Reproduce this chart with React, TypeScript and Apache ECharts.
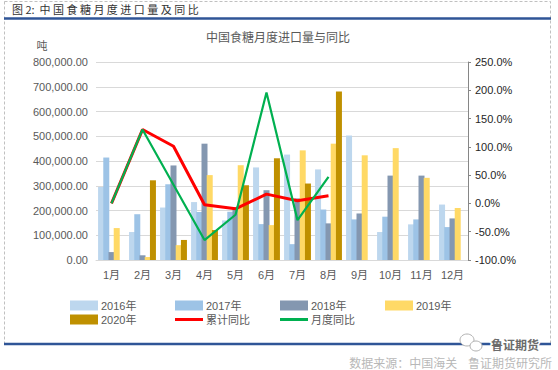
import React, { useEffect, useRef } from 'react';
import * as echarts from 'echarts';

const months = ['1月', '2月', '3月', '4月', '5月', '6月', '7月', '8月', '9月', '10月', '11月', '12月'];
const y2016 = [295000, 113000, 212000, 234000, 160000, 374000, 426000, 366000, 503000, 113000, 144000, 224000];
const y2017 = [414000, 185000, 306000, 194000, 195000, 145000, 64000, 204000, 164000, 175000, 164000, 133000];
const y2018 = [32000, 19000, 382000, 470000, 212000, 282000, 249000, 148000, 188000, 341000, 341000, 168000];
const y2019 = [129000, 12000, 60000, 343000, 383000, 141000, 443000, 470000, 423000, 452000, 332000, 210000];
const y2020 = [null, 322000, 81000, 121000, 302000, 411000, 309000, 681000, null, null, null, null];
const cumYoY = [0, 130.6, 101, -2.4, -9.5, 16.4, 4.6, 13.4];
const monYoY = [0, 130.6, 33, -64.8, -20, 196, -29.5, 47];

const NUM_FONT = "'Liberation Sans', 'Noto Sans CJK SC', sans-serif";
const CJK_FONT = "'Noto Sans CJK SC', sans-serif";
const GREY = '#595959';

const barNames = ['2016年', '2017年', '2018年', '2019年', '2020年'];
const barData = [y2016, y2017, y2018, y2019, y2020];
const barColors = ['#bdd7ee', '#9dc3e6', '#8497b0', '#ffd966', '#bf9000'];

function legendAt(name: string, left: number, top: number, isLine: boolean) {
  return {
    show: true,
    left,
    top,
    padding: 0,
    itemGap: 0,
    itemWidth: 28,
    itemHeight: isLine ? 3 : 10,
    icon: 'rect',
    data: [name],
    selectedMode: false,
    textStyle: { fontSize: 11, color: GREY, fontFamily: NUM_FONT, padding: [0, 0, 0, -2] },
  };
}

export default function App() {
  const ref = useRef<HTMLDivElement>(null);
  useEffect(() => {
    const chart = echarts.init(ref.current!, null, { renderer: 'svg' });
    const series: any[] = barNames.map((n, i) => ({
      name: n,
      type: 'bar',
      yAxisIndex: 0,
      data: barData[i],
      barWidth: 6,
      barGap: '-13%',
      itemStyle: { color: barColors[i] },
    }));
    series.push({
      name: '累计同比',
      type: 'line',
      yAxisIndex: 1,
      data: cumYoY,
      symbol: 'none',
      lineStyle: { color: '#ff0000', width: 3 },
      itemStyle: { color: '#ff0000' },
    });
    series.push({
      name: '月度同比',
      type: 'line',
      yAxisIndex: 1,
      data: monYoY,
      symbol: 'none',
      lineStyle: { color: '#00b050', width: 2.2 },
      itemStyle: { color: '#00b050' },
    });
    chart.setOption({
      animation: false,
      backgroundColor: '#fff',
      grid: { left: 96, top: 62, width: 372, height: 198 },
      legend: [
        legendAt('2016年', 70, 300, false),
        legendAt('2017年', 175, 300, false),
        legendAt('2018年', 280, 300, false),
        legendAt('2019年', 385, 300, false),
        legendAt('2020年', 70, 314, false),
        legendAt('累计同比', 175, 314, true),
        legendAt('月度同比', 280, 314, true),
      ],
      xAxis: {
        type: 'category',
        data: months,
        axisLine: { show: true, lineStyle: { color: '#d9d9d9' } },
        axisTick: { show: false },
        axisLabel: { color: GREY, fontSize: 11, fontFamily: NUM_FONT, margin: 9 },
      },
      yAxis: [
        {
          type: 'value',
          min: 0,
          max: 800000,
          interval: 100000,
          axisLine: { show: false },
          axisTick: { show: false },
          splitLine: { lineStyle: { color: '#d9d9d9' } },
          axisLabel: {
            color: GREY,
            fontSize: 11,
            fontFamily: NUM_FONT,
            margin: 8,
            formatter: (v: number) =>
              v.toLocaleString('en-US', { minimumFractionDigits: 2, maximumFractionDigits: 2 }),
          },
        },
        {
          type: 'value',
          min: -100,
          max: 250,
          interval: 50,
          position: 'right',
          axisLine: { show: true, lineStyle: { color: '#868686' } },
          axisTick: { show: true, length: 3, lineStyle: { color: '#868686' } },
          splitLine: { show: false },
          axisLabel: {
            color: '#262626',
            fontSize: 11,
            fontFamily: NUM_FONT,
            margin: 7,
            formatter: (v: number) => v.toFixed(1) + '%',
          },
        },
      ],
      series,
      graphic: [
        {
          type: 'rect',
          shape: { x: 4.5, y: 1.5, width: 546, height: 343 },
          style: { fill: 'none', stroke: '#c0c0c0', lineWidth: 1, lineDash: [3, 2] },
          silent: true,
        },
        {
          type: 'line',
          shape: { x1: 4, y1: 18.5, x2: 551, y2: 18.5 },
          style: { stroke: '#2f5597', lineWidth: 2.5 },
        },
        {
          type: 'line',
          shape: { x1: 4, y1: 344, x2: 551, y2: 344 },
          style: { stroke: '#2f5597', lineWidth: 2.5 },
        },
        {
          type: 'text',
          x: 12,
          y: 9,
          style: {
            text: '图 2:  中 国 食 糖 月 度 进 口 量 及 同 比',
            font: `11px ${CJK_FONT}`,
            fill: '#333333',
            textVerticalAlign: 'middle',
          },
        },
        {
          type: 'text',
          x: 278,
          y: 36,
          style: {
            text: '中国食糖月度进口量与同比',
            font: `12px ${CJK_FONT}`,
            fill: GREY,
            textAlign: 'center',
            textVerticalAlign: 'middle',
          },
        },
        {
          type: 'text',
          x: 42,
          y: 45,
          style: {
            text: '吨',
            font: `11px ${CJK_FONT}`,
            fill: GREY,
            textAlign: 'center',
            textVerticalAlign: 'middle',
          },
        },
        {
          type: 'ellipse',
          shape: { cx: 467, cy: 340, rx: 7, ry: 6 },
          style: { fill: '#fff', stroke: '#b0b0b0', lineWidth: 1 },
        },
        {
          type: 'ellipse',
          shape: { cx: 476, cy: 346, rx: 6, ry: 5 },
          style: { fill: '#fff', stroke: '#b0b0b0', lineWidth: 1 },
        },
        {
          type: 'text',
          x: 515,
          y: 344,
          style: {
            text: '鲁证期货',
            font: `bold 12px ${CJK_FONT}`,
            fill: '#6b6b6b',
            stroke: '#fff',
            lineWidth: 3,
            textAlign: 'center',
            textVerticalAlign: 'middle',
          },
        },
        {
          type: 'text',
          x: 552,
          y: 362,
          style: {
            text: '数据来源：中国海关    鲁证期货研究所',
            font: `12px ${CJK_FONT}`,
            fill: '#b8b8b8',
            textAlign: 'right',
            textVerticalAlign: 'middle',
          },
        },
      ],
    });
    return () => chart.dispose();
  }, []);
  return (
    <div
      ref={ref}
      style={{ position: 'fixed', left: 0, top: 0, width: 558, height: 370, background: '#fff' }}
    />
  );
}
